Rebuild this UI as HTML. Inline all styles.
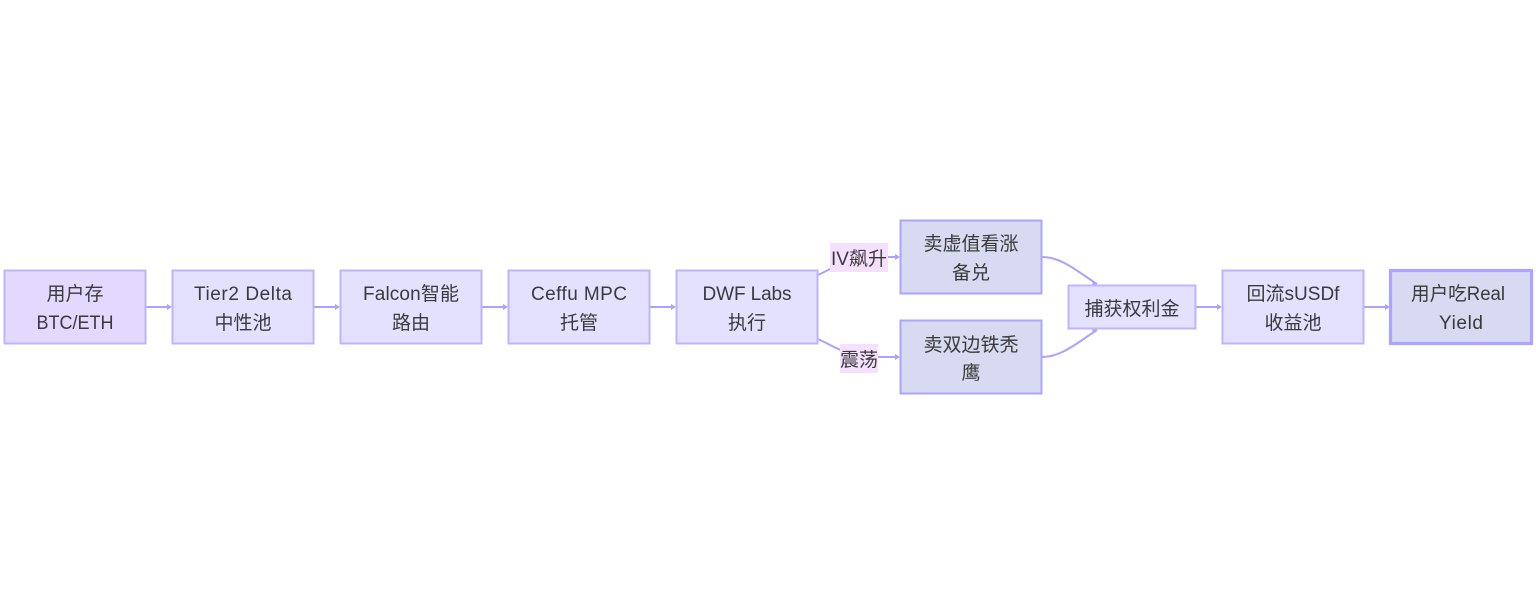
<!DOCTYPE html>
<html><head><meta charset="utf-8">
<style>
html,body{margin:0;padding:0;background:#fff;width:1536px;height:614px;overflow:hidden}
svg{display:block}
text{font-family:"Liberation Sans","Noto Sans CJK SC",sans-serif;font-size:19px;fill:#3a3a3a;text-anchor:middle}
.a{fill:#e3d9ff;stroke:#bdb6ff;stroke-width:2}
.n{fill:#e4e0ff;stroke:#bdb6ff;stroke-width:2}
.d{fill:#d7daf0;stroke:#aca4ff;stroke-width:2}
.e{fill:#d7daf0;stroke:#aca4ff;stroke-width:3.2}
.l{fill:none;stroke:#aaa2ff;stroke-width:2}
.h{fill:#aaa2ff}
.b{fill:#f6e0ff}
</style></head><body>
<svg width="1536" height="614" viewBox="0 0 1536 614" xmlns="http://www.w3.org/2000/svg">
<path class="l" d="M146 307H170M314 307H338M482 307H506M650 307H674M1196 307H1220M1364 307H1388"/>
<path class="l" d="M818 275C835 267 850 257 868 257H898"/>
<path class="l" d="M818 339C835 347 850 357 868 357H898"/>
<path class="l" d="M1042 257C1062 257 1078 272 1097 284"/>
<path class="l" d="M1042 357C1062 357 1078 342 1097 330"/>
<path class="h" d="M167 304l5 3-5 3zM335 304l5 3-5 3zM503 304l5 3-5 3zM671 304l5 3-5 3zM1217 304l5 3-5 3zM1385 304l5 3-5 3zM895 254l5 3-5 3zM895 354l5 3-5 3z"/>
<path class="h" d="M1093 281l5 4-6 0zM1093 333l5-4-6 0z"/>

<rect class="a" x="4.5" y="270.5" width="141" height="73"/>
<rect class="n" x="172.5" y="270.5" width="141" height="73"/>
<rect class="n" x="340.5" y="270.5" width="141" height="73"/>
<rect class="n" x="508.5" y="270.5" width="141" height="73"/>
<rect class="n" x="676.5" y="270.5" width="141" height="73"/>
<rect class="d" x="900.5" y="220.5" width="141" height="73"/>
<rect class="d" x="900.5" y="320.5" width="141" height="73"/>
<rect class="n" x="1068.5" y="285.5" width="127" height="43"/>
<rect class="n" x="1222.5" y="270.5" width="141" height="73"/>
<rect class="e" x="1390.5" y="270.5" width="141" height="73"/>

<rect class="b" x="830" y="243" width="58" height="29"/>
<rect class="b" x="840" y="344" width="38" height="29"/>

<text x="75" y="300">用户存</text><text x="75" y="329" textLength="77" lengthAdjust="spacingAndGlyphs">BTC/ETH</text>
<text x="243" y="300" textLength="98">Tier2 Delta</text><text x="243" y="329">中性池</text>
<text x="411" y="300" textLength="96">Falcon智能</text><text x="411" y="329">路由</text>
<text x="579" y="300" textLength="96">Ceffu MPC</text><text x="579" y="329">托管</text>
<text x="747" y="300" textLength="89">DWF Labs</text><text x="747" y="329">执行</text>
<text x="859" y="265">IV飙升</text>
<text x="859" y="366">震荡</text>
<text x="971" y="250">卖虚值看涨</text><text x="971" y="279">备兑</text>
<text x="971" y="351">卖双边铁秃</text><text x="971" y="379">鹰</text>
<text x="1132" y="315">捕获权利金</text>
<text x="1293" y="300">回流sUSDf</text><text x="1293" y="329">收益池</text>
<text x="1458" y="300" textLength="94" lengthAdjust="spacingAndGlyphs">用户吃Real</text><text x="1461" y="329" textLength="44">Yield</text>
</svg>
</body></html>
